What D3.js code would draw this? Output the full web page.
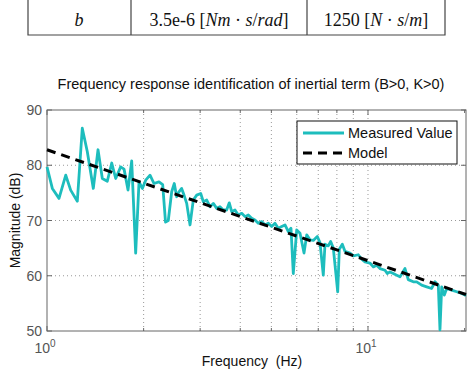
<!doctype html>
<html>
  <head>
    <script src="https://d3js.org/d3.v7.min.js"></script>
    <style>
      body { margin: 0; background: #fff; }
      svg { display: block; }
      .tbl { font-family: "Liberation Serif", "DejaVu Serif", serif; font-size: 18px; fill: #111; }
      .sans { font-family: "Liberation Sans", Arial, sans-serif; }
    </style>
  </head>

  <body>
    <svg id="chart" width="474" height="373"></svg>

    <script>
      // measured frequency response (Hz, dB)
      const freqHz = [1.00,1.039,1.090,1.144,1.185,1.243,1.288,1.335,1.394,1.442,
        1.487,1.541,1.591,1.637,1.696,1.738,1.788,1.836,1.889,1.935,
        1.982,2.030,2.094,2.154,2.233,2.293,2.340,2.387,2.446,2.492,
        2.535,2.577,2.627,2.672,2.724,2.790,2.856,2.927,3.012,3.069,
        3.145,3.220,3.297,3.379,3.458,3.541,3.628,3.697,3.762,3.852,
        3.945,4.042,4.139,4.238,4.341,4.446,4.552,4.666,4.777,4.892,
        5.012,5.132,5.255,5.385,5.514,5.646,5.756,5.852,5.997,6.141,
        6.320,6.444,6.597,6.755,6.951,7.087,7.257,7.346,7.522,7.652,
        7.798,8.048,8.141,8.318,8.481,8.791,9.002,9.328,9.558,9.787,
        10.14,10.39,10.64,10.90,11.30,11.48,11.71,11.99,12.29,12.58,
        13.04,13.35,13.84,14.18,14.70,15.24,15.79,16.17,16.56,16.76,
        16.97,17.29,17.59,18.23,18.90,19.58,20.05,20.2];
      const magDb = [79.7,75.8,74.0,78.2,75.5,73.5,86.7,82.5,75.8,82.8,
        77.6,77.1,80.4,77.6,79.7,79.3,75.5,80.8,64.1,77.0,
        75.8,77.3,78.2,76.7,77.0,76.5,69.7,70.0,75.2,76.7,
        74.3,75.2,75.8,74.6,73.1,69.2,73.7,74.6,74.9,73.4,
        73.7,72.5,73.1,72.2,72.5,71.9,71.9,73.2,71.6,71.9,
        71.0,71.3,70.7,71.0,70.4,70.1,69.5,69.8,69.2,69.5,
        68.9,69.5,68.6,68.9,69.2,68.0,68.6,60.4,68.3,67.7,
        64.1,67.4,66.5,66.4,67.1,66.0,60.1,65.7,65.4,66.2,
        65.0,57.1,64.8,65.7,64.4,64.1,63.6,63.8,63.0,62.5,
        62.3,61.6,61.9,61.3,61.0,60.4,60.7,60.4,60.1,59.8,
        61.3,59.3,58.9,58.9,58.3,58.0,57.7,58.9,58.3,50.2,
        58.0,56.5,57.7,57.4,57.1,56.8,56.5,56.4];

      // fitted model, straight line on the log axis
      const modelFreq = [1.0, 20.2];
      const modelDb = [82.8, 56.6];

      const yTicks = [50, 60, 70, 80, 90];
      const xMinor = [2, 3, 4, 5, 6, 7, 8, 9, 20];
      const xMajor = [1, 10];
      const legendNames = ["Measured Value", "Model"];

      const svg = d3.select("#chart");
      const m = { left: 47, right: 466, top: 110, bottom: 331 };

      const x = d3.scaleLog().domain([1, 20.2]).range([m.left, m.right]);
      const y = d3.scaleLinear().domain([50, 90]).range([m.bottom, m.top]);

      // --- table row above the figure ---
      const tb = svg.append("g");
      tb.append("path")
        .attr("d", "M28,0V35H445V0M131,0V35M307,0V35")
        .attr("fill", "none").attr("stroke", "#444").attr("stroke-width", 1.2);
      tb.append("text").attr("class", "tbl").attr("x", 79).attr("y", 26)
        .attr("text-anchor", "middle").style("font-style", "italic").text("b");
      const t1 = tb.append("text").attr("class", "tbl").attr("x", 219).attr("y", 26)
        .attr("text-anchor", "middle");
      t1.append("tspan").text("3.5e-6 [");
      t1.append("tspan").style("font-style", "italic").text("Nm");
      t1.append("tspan").text(" \u00b7 ");
      t1.append("tspan").style("font-style", "italic").text("s");
      t1.append("tspan").text("/");
      t1.append("tspan").style("font-style", "italic").text("rad");
      t1.append("tspan").text("]");
      const t2 = tb.append("text").attr("class", "tbl").attr("x", 376).attr("y", 26)
        .attr("text-anchor", "middle");
      t2.append("tspan").text("1250 [");
      t2.append("tspan").style("font-style", "italic").text("N");
      t2.append("tspan").text(" \u00b7 ");
      t2.append("tspan").style("font-style", "italic").text("s");
      t2.append("tspan").text("/");
      t2.append("tspan").style("font-style", "italic").text("m");
      t2.append("tspan").text("]");

      // --- title ---
      svg.append("text").attr("class", "sans")
        .attr("x", 251).attr("y", 89).attr("text-anchor", "middle")
        .style("font-size", "14.5px").attr("fill", "#111")
        .text("Frequency response identification of inertial term (B>0, K>0)");

      // --- grid ---
      const grid = svg.append("g").attr("stroke", "#999").attr("stroke-width", 1)
        .attr("stroke-dasharray", "1,3");
      grid.selectAll(".gx").data(xMinor.filter(d => d < 20).concat([10]))
        .enter().append("line")
        .attr("x1", d => x(d)).attr("x2", d => x(d))
        .attr("y1", m.top).attr("y2", m.bottom);
      grid.selectAll(".gy").data([60, 70, 80])
        .enter().append("line")
        .attr("x1", m.left).attr("x2", m.right)
        .attr("y1", d => y(d)).attr("y2", d => y(d));

      // --- axes (inward ticks, box) ---
      const ax = svg.append("g").attr("stroke", "#666").attr("stroke-width", 1);
      ax.append("rect").attr("x", m.left).attr("y", m.top)
        .attr("width", m.right - m.left).attr("height", m.bottom - m.top)
        .attr("fill", "none");
      ax.selectAll(".ty").data(yTicks).enter().append("path")
        .attr("d", d => "M" + m.left + "," + y(d) + "h5M" + m.right + "," + y(d) + "h-5");
      ax.selectAll(".tx").data(xMajor.concat(xMinor)).enter().append("path")
        .attr("d", d => {
          const l = xMajor.includes(d) ? 5 : 3;
          return "M" + x(d) + "," + m.bottom + "v-" + l + "M" + x(d) + "," + m.top + "v" + l;
        });

      svg.selectAll(".ylab").data(yTicks).enter().append("text")
        .attr("class", "sans").attr("x", m.left - 5).attr("y", d => y(d) + 5)
        .attr("text-anchor", "end").style("font-size", "14px").attr("fill", "#555")
        .text(d => d);

      const xl = svg.selectAll(".xlab").data(xMajor).enter().append("text")
        .attr("class", "sans").attr("x", d => x(d) - 2).attr("y", 353)
        .attr("text-anchor", "middle").style("font-size", "14px").attr("fill", "#555");
      xl.append("tspan").text("10");
      xl.append("tspan").attr("dy", -6).style("font-size", "10px").text(d => Math.log10(d));

      svg.append("text").attr("class", "sans").attr("x", 252).attr("y", 366)
        .attr("text-anchor", "middle").style("font-size", "14px").attr("fill", "#111")
        .attr("xml:space", "preserve").text("Frequency  (Hz)");
      svg.append("text").attr("class", "sans")
        .attr("transform", "translate(20," + ((m.top + m.bottom) / 2) + ") rotate(-90)")
        .attr("text-anchor", "middle").style("font-size", "14px").attr("fill", "#111")
        .text("Magnitude (dB)");

      // --- data lines ---
      const plot = svg.append("g");
      const line = d3.line().x(d => x(d[0])).y(d => y(d[1]));
      plot.append("path")
        .datum(d3.zip(freqHz, magDb))
        .attr("d", line).attr("fill", "none")
        .attr("stroke", "#1dbdbd").attr("stroke-width", 2.8)
        .attr("stroke-linejoin", "round");
      plot.append("path")
        .datum(d3.zip(modelFreq, modelDb))
        .attr("d", line).attr("fill", "none")
        .attr("stroke", "#000").attr("stroke-width", 3)
        .attr("stroke-dasharray", "9,6");

      // --- legend ---
      const lg = svg.append("g");
      lg.append("rect").attr("x", 297).attr("y", 121).attr("width", 160).attr("height", 43)
        .attr("fill", "#fff").attr("stroke", "#111").attr("stroke-width", 1);
      lg.append("line").attr("x1", 303).attr("x2", 344).attr("y1", 133).attr("y2", 133)
        .attr("stroke", "#1dbdbd").attr("stroke-width", 2.8);
      lg.append("line").attr("x1", 303).attr("x2", 344).attr("y1", 153).attr("y2", 153)
        .attr("stroke", "#000").attr("stroke-width", 3).attr("stroke-dasharray", "9,6");
      lg.selectAll(".lt").data(legendNames).enter().append("text")
        .attr("class", "sans").attr("x", 348).attr("y", (d, i) => 138 + i * 20)
        .style("font-size", "14.5px").attr("fill", "#111").text(d => d);
    </script>
  </body>
</html>
